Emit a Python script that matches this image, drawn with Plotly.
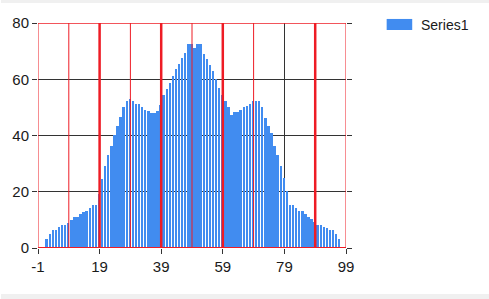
import plotly.graph_objects as go

x_values = list(range(2, 98))
series1 = [3.3, 5.0, 6.5, 6.5, 7.5, 8.2, 8.2, 8.9, 10.1, 10.9, 11.2, 12.0, 12.8, 13.3, 14.2, 15.2,
           15.2, 19.2, 24.5, 29.0, 33.1, 36.2, 40.1, 43.3, 46.5, 50.3, 52.3, 53.0, 52.2, 51.3,
           51.3, 50.3, 49.1, 48.8, 48.0, 48.0, 48.8, 51.0, 54.4, 56.6, 58.5, 61.1, 63.5, 65.5,
           67.5, 69.4, 72.4, 72.4, 71.2, 72.4, 72.4, 69.0, 67.3, 65.2, 62.8, 60.2, 57.0, 54.3,
           52.2, 50.3, 47.4, 48.2, 48.2, 49.2, 50.3, 50.5, 51.3, 52.3, 52.3, 52.3, 50.2, 46.4,
           43.4, 40.8, 36.2, 33.1, 29.0, 24.9, 20.1, 15.4, 15.4, 14.2, 13.0, 13.0, 12.2, 11.0,
           10.3, 9.1, 8.3, 8.3, 7.5, 7.0, 6.5, 6.5, 5.1, 3.2]
series_name = "Series1"

thin_red_x = [-1, 9, 29, 49, 69, 99]
thick_red_x = [19, 39, 59, 89]
x_ticks = [-1, 19, 39, 59, 79, 99]
y_ticks = [0, 20, 40, 60, 80]

RED = "#ee1c25"
BLUE = "#418cf0"
FONT = "Liberation Sans"

fig = go.Figure()
fig.add_trace(go.Bar(x=x_values, y=series1, name=series_name, width=0.78, offset=-0.58,
                     marker=dict(color=BLUE, line=dict(width=0)), showlegend=False))

shapes = []
for xv in thin_red_x:
    shapes.append(dict(type="line", xref="x", yref="y", x0=xv, x1=xv, y0=0, y1=80,
                       line=dict(color=RED, width=1), layer="above"))
for xv in thick_red_x:
    shapes.append(dict(type="line", xref="x", yref="y", x0=xv, x1=xv, y0=0, y1=80,
                       line=dict(color=RED, width=2.5), layer="above"))
shapes.append(dict(type="line", xref="x", yref="y", x0=-1, x1=99, y0=80, y1=80,
                   line=dict(color=RED, width=1.5), layer="above"))
shapes.append(dict(type="line", xref="x", yref="y", x0=-1, x1=99, y0=0, y1=0,
                   line=dict(color=RED, width=2), layer="above"))
# legend swatch
shapes.append(dict(type="rect", xref="paper", yref="paper", x0=1.132, x1=1.215, y0=0.969, y1=1.018,
                   fillcolor=BLUE, line=dict(width=0)))
# light window strips
shapes.append(dict(type="rect", xref="paper", yref="paper", x0=-0.12, x1=1.47, y0=1.089, y1=1.11,
                   fillcolor="#f0f0f0", line=dict(width=0), layer="below"))
shapes.append(dict(type="rect", xref="paper", yref="paper", x0=-0.12, x1=1.47, y0=-0.23, y1=-0.204,
                   fillcolor="#f0f0f0", line=dict(width=0), layer="below"))

fig.update_layout(
    width=489, height=299,
    margin=dict(l=35, r=143, t=23, b=51),
    paper_bgcolor="white", plot_bgcolor="white",
    font=dict(family=FONT, size=15, color="#1a1a1a"),
    bargap=0,
    shapes=shapes,
    annotations=[dict(xref="paper", yref="paper", x=1.238, y=0.993, xanchor="left", yanchor="middle",
                      text=series_name, showarrow=False, font=dict(family=FONT, size=14, color="#1a1a1a"))],
    xaxis=dict(range=[-1, 99], tickmode="array", tickvals=x_ticks, ticktext=[str(v) for v in x_ticks],
               showgrid=True, gridcolor="#333333", gridwidth=1, zeroline=False,
               ticks="outside", ticklen=5, tickcolor="#333333", showline=False),
    yaxis=dict(range=[0, 80], tickmode="array", tickvals=y_ticks, ticktext=[str(v) for v in y_ticks],
               showgrid=True, gridcolor="#333333", gridwidth=1, zeroline=False,
               ticks="outside", ticklen=5, tickcolor="#333333", mirror="ticks", showline=False),
)

fig.write_html("out.html")
